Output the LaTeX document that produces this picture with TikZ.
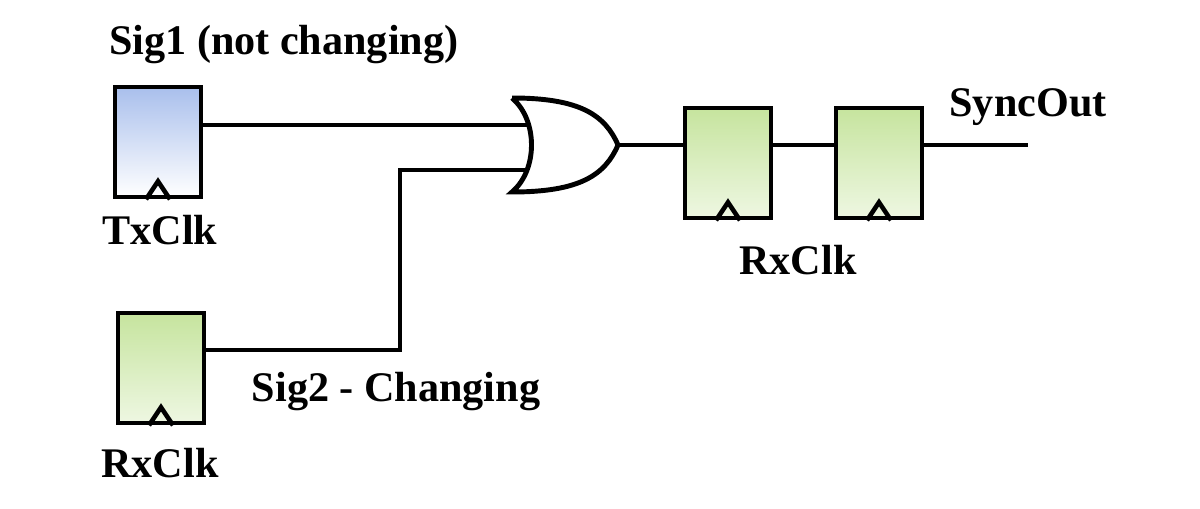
\documentclass[tikz,border=0pt]{standalone}
\usepackage{fontspec}
\setmainfont{Liberation Serif}
\definecolor{bl}{HTML}{A9BFEC}
\definecolor{gr}{HTML}{C6E49E}
\definecolor{grl}{HTML}{EEF7E2}
\begin{document}
\begin{tikzpicture}[x=0.02cm,y=-0.02cm,
  lbl/.style={font=\fontsize{24}{28}\selectfont\bfseries},
  wire/.style={line width=2.4pt},
  ffb/.style={draw,line width=2.6pt,minimum width=1.72cm,minimum height=2.2cm,inner sep=0pt,
     shading=axis,shading angle=135,top color=bl,bottom color=white},
  ffg/.style={draw,line width=2.6pt,minimum width=1.72cm,minimum height=2.2cm,inner sep=0pt,
     shading=axis,shading angle=135,top color=gr,bottom color=grl}]
\useasboundingbox (0,0) rectangle (1200,509);
% flip-flops
\node[ffb] (f1) at (158,142) {};
\node[ffg] (f2) at (161,368) {};
\node[ffg] (f3) at (728,163) {};
\node[ffg] (f4) at (879,163) {};
\foreach \f in {f1,f2,f3,f4}{
  \draw[line width=2.6pt] ([xshift=-0.24cm]\f.south) -- ([yshift=0.36cm]\f.south) -- ([xshift=0.24cm]\f.south);}
% OR gate
\coordinate (ot) at (512,98);
\coordinate (ob) at (512,192);
\coordinate (oo) at (618,145);
\draw[line width=2.8pt] (ot) .. controls (538,120) and (538,170) .. (ob)
  .. controls (580,192) and (605,175) .. (oo)
  .. controls (605,115) and (580,98) .. (ot);
\coordinate (i1) at (527,125);
\coordinate (i2) at (527,170);
\coordinate (out) at (1028,145);
% wires
\draw[wire] (f1.east|-0,125) -- (i1);
\draw[wire] (f2.east|-0,350) -- (400,350) -- (400,170) -- (i2);
\draw[wire] (oo) -- (f3.west|-oo);
\draw[wire] (f3.east|-oo) -- (f4.west|-oo);
\draw[wire] (f4.east|-oo) -- (out);
% labels
\node[lbl,anchor=west] (t1) at (103,45) {Sig1 (not changing)};
\node[lbl] (t2) at (160,230) {TxClk};
\node[lbl] (t3) at (160,463) {RxClk};
\node[lbl] (t4) at (396,392) {Sig2 - Changing};
\node[lbl] (t5) at (798,260) {RxClk};
\node[lbl] (t6) at (1028,107) {SyncOut};
\end{tikzpicture}
\end{document}
